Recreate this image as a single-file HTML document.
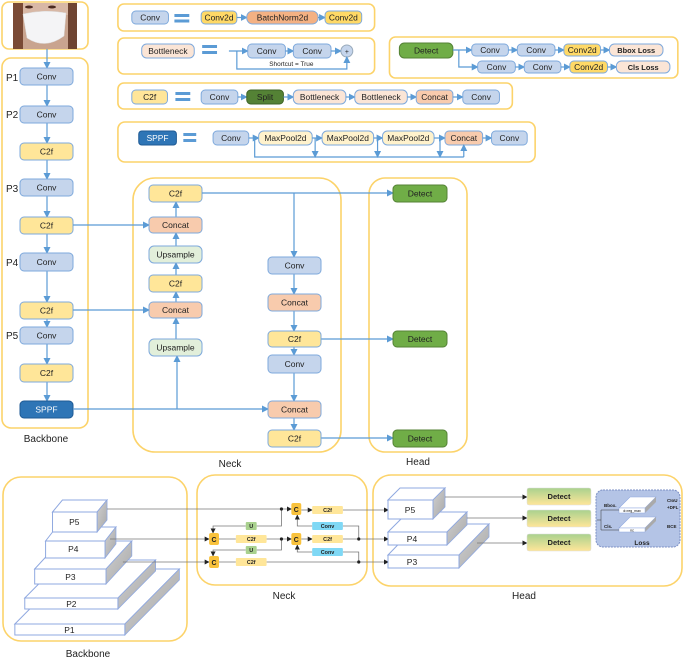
<!DOCTYPE html>
<html><head><meta charset="utf-8"><style>
html,body{margin:0;padding:0;background:#fff;}
svg{display:block;font-family:"Liberation Sans",sans-serif;}
</style></head><body>
<svg width="685" height="658" viewBox="0 0 685 658" xmlns="http://www.w3.org/2000/svg">
<defs>
<marker id="a" markerUnits="userSpaceOnUse" markerWidth="7" markerHeight="7" refX="6" refY="3.5" orient="auto"><path d="M0,0 L7,3.5 L0,7z" fill="#5b9bd5"/></marker>
<marker id="g" markerUnits="userSpaceOnUse" markerWidth="5" markerHeight="5" refX="4.5" refY="2.5" orient="auto"><path d="M0,0 L5,2.5 L0,5z" fill="#222"/></marker>
<linearGradient id="det" x1="0" y1="0" x2="0" y2="1"><stop offset="0" stop-color="#a9d18e"/><stop offset="1" stop-color="#ffe699"/></linearGradient>
<linearGradient id="side" x1="0" y1="0" x2="1" y2="1"><stop offset="0" stop-color="#d0d0d0"/><stop offset="1" stop-color="#a8a8a8"/></linearGradient>
</defs>
<style>
.f{fill:none;stroke:#fcd36a;stroke-width:1.6}
.n{stroke:#7ea9dc;stroke-width:1}
.t{font-size:8.5px;text-anchor:middle;fill:#222}
.l{stroke:#5b9bd5;stroke-width:1.2;fill:none}
.k{stroke:#777;stroke-width:0.8;fill:none}
.b{fill:#c5d5ec}.y{fill:#ffe699}.o{fill:#f8cbad}.gr{fill:#70ad47}.lg{fill:#e2efda}.pk{fill:#fbe5d6}.mp{fill:#fff2cc}
.s{font-size:5.5px;text-anchor:middle;fill:#222;font-weight:bold}
.eq{fill:#5b9bd5}
.box{fill:#fff;stroke:#8fa8e0;stroke-width:1}
.sd{fill:url(#side);stroke:#8fa8e0;stroke-width:0.8}
</style>

<!-- image box -->
<rect class="f" x="2" y="2" width="86" height="47" rx="7"/>
<rect x="13" y="3" width="64" height="46" fill="#c9a48f"/>
<rect x="13" y="3" width="64" height="12" fill="#d8b8a6"/>
<rect x="13" y="3" width="10" height="46" fill="#7a4a35"/>
<rect x="68" y="3" width="9" height="46" fill="#6e4432"/>
<ellipse cx="29" cy="7" rx="4" ry="1.5" fill="#4a2a20"/><ellipse cx="52" cy="7" rx="4" ry="1.5" fill="#4a2a20"/>
<path d="M23,14 Q45,9 66,13 L64,36 Q45,50 27,38z" fill="#f4f4f6" stroke="#ddd" stroke-width="0.5"/>

<!-- backbone -->
<rect class="f" x="2" y="58" width="86" height="370" rx="9"/>
<text x="46" y="442" style="font-size:10px;text-anchor:middle" fill="#222">Backbone</text>
<g>
<line class="l" x1="47" y1="49" x2="47" y2="68" marker-end="url(#a)"/>
<line class="l" x1="47" y1="85" x2="47" y2="106" marker-end="url(#a)"/>
<line class="l" x1="47" y1="123" x2="47" y2="143" marker-end="url(#a)"/>
<line class="l" x1="47" y1="160" x2="47" y2="179" marker-end="url(#a)"/>
<line class="l" x1="47" y1="196" x2="47" y2="217" marker-end="url(#a)"/>
<line class="l" x1="47" y1="234" x2="47" y2="253" marker-end="url(#a)"/>
<line class="l" x1="47" y1="271" x2="47" y2="302" marker-end="url(#a)"/>
<line class="l" x1="47" y1="319" x2="47" y2="327" marker-end="url(#a)"/>
<line class="l" x1="47" y1="344" x2="47" y2="364" marker-end="url(#a)"/>
<line class="l" x1="47" y1="382" x2="47" y2="401" marker-end="url(#a)"/>
<rect class="n b" x="20" y="68" width="53" height="17" rx="4"/><text class="t" x="46.5" y="79.5">Conv</text>
<rect class="n b" x="20" y="106" width="53" height="17" rx="4"/><text class="t" x="46.5" y="117.5">Conv</text>
<rect class="n y" x="20" y="143" width="53" height="17" rx="4"/><text class="t" x="46.5" y="154.5">C2f</text>
<rect class="n b" x="20" y="179" width="53" height="17" rx="4"/><text class="t" x="46.5" y="190.5">Conv</text>
<rect class="n y" x="20" y="217" width="53" height="17" rx="4"/><text class="t" x="46.5" y="228.5">C2f</text>
<rect class="n b" x="20" y="253" width="53" height="18" rx="4"/><text class="t" x="46.5" y="265">Conv</text>
<rect class="n y" x="20" y="302" width="53" height="17" rx="4"/><text class="t" x="46.5" y="313.5">C2f</text>
<rect class="n b" x="20" y="327" width="53" height="17" rx="4"/><text class="t" x="46.5" y="338.5">Conv</text>
<rect class="n y" x="20" y="364" width="53" height="18" rx="4"/><text class="t" x="46.5" y="376">C2f</text>
<rect x="20" y="401" width="53" height="17" rx="4" fill="#2e75b6" stroke="#1f5a94"/><text class="t" x="46.5" y="412.5" fill="#fff" style="fill:#fff">SPPF</text>
<g style="font-size:10px" fill="#222"><text x="6" y="81">P1</text><text x="6" y="118">P2</text><text x="6" y="192">P3</text><text x="6" y="266">P4</text><text x="6" y="339">P5</text></g>
</g>

<!-- top definitions (scaled) -->
<g transform="scale(0.991,1)">
<rect class="f" x="119" y="4" width="259" height="27" rx="6"/>
<rect class="n b" x="133" y="11" width="37" height="13" rx="4"/><text class="t" x="151.5" y="20.5">Conv</text>
<rect class="eq" x="176" y="14" width="15" height="3"/><rect class="eq" x="176" y="19.5" width="15" height="3"/>
<rect class="n" x="203" y="11" width="36" height="13" rx="4" fill="#ffd966"/><text class="t" x="221" y="20.5">Conv2d</text>
<line class="l" x1="239" y1="17.5" x2="249" y2="17.5" marker-end="url(#a)"/>
<rect class="n" x="249" y="11" width="72" height="13" rx="6" fill="#f4b183"/><text class="t" x="285" y="20.5">BatchNorm2d</text>
<line class="l" x1="321" y1="17.5" x2="328" y2="17.5" marker-end="url(#a)"/>
<rect class="n" x="328" y="11" width="37" height="13" rx="4" fill="#ffd966"/><text class="t" x="346.5" y="20.5">Conv2d</text>

<rect class="f" x="119" y="38" width="259" height="36" rx="6"/>
<rect class="n pk" x="143" y="44" width="53" height="14" rx="5"/><text class="t" x="169.5" y="54">Bottleneck</text>
<rect class="eq" x="204" y="45" width="15" height="3"/><rect class="eq" x="204" y="51" width="15" height="3"/>
<line class="l" x1="231" y1="51" x2="250" y2="51" marker-end="url(#a)"/>
<rect class="n b" x="250" y="44" width="38" height="14" rx="4"/><text class="t" x="269" y="54">Conv</text>
<line class="l" x1="288" y1="51" x2="296" y2="51" marker-end="url(#a)"/>
<rect class="n b" x="296" y="44" width="38" height="14" rx="4"/><text class="t" x="315" y="54">Conv</text>
<line class="l" x1="334" y1="51" x2="344" y2="51" marker-end="url(#a)"/>
<circle cx="350" cy="51" r="6" fill="#c5d5ec" stroke="#9ab"/><text class="t" x="350" y="54" style="font-size:7px">+</text>
<polyline class="l" points="239,51 239,69 350,69 350,57" marker-end="url(#a)"/>
<text x="294" y="66" style="font-size:6.5px;text-anchor:middle" fill="#222">Shortcut = True</text>

<rect class="f" x="393" y="37" width="291" height="41" rx="6"/>
<rect x="403" y="43" width="54" height="15" rx="5" fill="#70ad47" stroke="#548235"/><text class="t" x="430" y="53.5">Detect</text>
<polyline class="l" points="457,50 476,50" marker-end="url(#a)"/>
<polyline class="l" points="463,50 463,67 482,67" marker-end="url(#a)"/>
<rect class="n b" x="476" y="44" width="37" height="12" rx="4"/><text class="t" x="494.5" y="53">Conv</text>
<line class="l" x1="513" y1="50" x2="522" y2="50" marker-end="url(#a)"/>
<rect class="n b" x="522" y="44" width="38" height="12" rx="4"/><text class="t" x="541" y="53">Conv</text>
<line class="l" x1="560" y1="50" x2="569" y2="50" marker-end="url(#a)"/>
<rect class="n" x="569" y="44" width="37" height="12" rx="4" fill="#ffd966"/><text class="t" x="587.5" y="53">Conv2d</text>
<line class="l" x1="606" y1="50" x2="615" y2="50" marker-end="url(#a)"/>
<rect class="n pk" x="615" y="44" width="54" height="12" rx="5"/><text class="t" x="642" y="53" style="font-size:7.5px;font-weight:bold">Bbox Loss</text>
<rect class="n b" x="482" y="61" width="38" height="12" rx="4"/><text class="t" x="501" y="70">Conv</text>
<line class="l" x1="520" y1="67" x2="529" y2="67" marker-end="url(#a)"/>
<rect class="n b" x="529" y="61" width="37" height="12" rx="4"/><text class="t" x="547.5" y="70">Conv</text>
<line class="l" x1="566" y1="67" x2="575" y2="67" marker-end="url(#a)"/>
<rect class="n" x="575" y="61" width="38" height="12" rx="4" fill="#ffd966"/><text class="t" x="594" y="70">Conv2d</text>
<line class="l" x1="613" y1="67" x2="622" y2="67" marker-end="url(#a)"/>
<rect class="n pk" x="622" y="61" width="54" height="12" rx="5"/><text class="t" x="649" y="70" style="font-size:7.5px;font-weight:bold">Cls Loss</text>

<rect class="f" x="119" y="83" width="398" height="26" rx="6"/>
<rect class="n y" x="133" y="90" width="36" height="14" rx="4"/><text class="t" x="151" y="100">C2f</text>
<rect class="eq" x="177" y="92" width="15" height="3"/><rect class="eq" x="177" y="98" width="15" height="3"/>
<rect class="n b" x="203" y="90" width="37" height="14" rx="4"/><text class="t" x="221.5" y="100">Conv</text>
<line class="l" x1="240" y1="97" x2="249" y2="97" marker-end="url(#a)"/>
<rect x="249" y="90" width="37" height="14" rx="4" fill="#548235" stroke="#3d6326"/><text class="t" x="267.5" y="100">Split</text>
<line class="l" x1="286" y1="97" x2="296" y2="97" marker-end="url(#a)"/>
<rect class="n pk" x="296" y="90" width="53" height="14" rx="5"/><text class="t" x="322.5" y="100">Bottleneck</text>
<line class="l" x1="349" y1="97" x2="358" y2="97" marker-end="url(#a)"/>
<rect class="n pk" x="358" y="90" width="53" height="14" rx="5"/><text class="t" x="384.5" y="100">Bottleneck</text>
<line class="l" x1="411" y1="97" x2="420" y2="97" marker-end="url(#a)"/>
<rect class="n o" x="420" y="90" width="37" height="14" rx="4"/><text class="t" x="438.5" y="100">Concat</text>
<line class="l" x1="457" y1="97" x2="467" y2="97" marker-end="url(#a)"/>
<rect class="n b" x="467" y="90" width="37" height="14" rx="4"/><text class="t" x="485.5" y="100">Conv</text>

<rect class="f" x="119" y="122" width="421" height="40" rx="7"/>
<rect x="140" y="131" width="38" height="14" rx="3" fill="#2e75b6" stroke="#1f5a94"/><text class="t" x="159" y="141" style="fill:#fff">SPPF</text>
<rect class="eq" x="185" y="133" width="13" height="3"/><rect class="eq" x="185" y="139" width="13" height="3"/>
<rect class="n b" x="215" y="131" width="36" height="14" rx="4"/><text class="t" x="233" y="141">Conv</text>
<line class="l" x1="251" y1="138" x2="261" y2="138" marker-end="url(#a)"/>
<rect class="n mp" x="261" y="131" width="54" height="14" rx="5"/><text class="t" x="288" y="141">MaxPool2d</text>
<line class="l" x1="315" y1="138" x2="325" y2="138" marker-end="url(#a)"/>
<rect class="n mp" x="325" y="131" width="52" height="14" rx="5"/><text class="t" x="351" y="141">MaxPool2d</text>
<line class="l" x1="377" y1="138" x2="386" y2="138" marker-end="url(#a)"/>
<rect class="n mp" x="386" y="131" width="52" height="14" rx="5"/><text class="t" x="412" y="141">MaxPool2d</text>
<line class="l" x1="438" y1="138" x2="449" y2="138" marker-end="url(#a)"/>
<rect class="n o" x="449" y="131" width="38" height="14" rx="4"/><text class="t" x="468" y="141">Concat</text>
<line class="l" x1="487" y1="138" x2="496" y2="138" marker-end="url(#a)"/>
<rect class="n b" x="496" y="131" width="36" height="14" rx="4"/><text class="t" x="514" y="141">Conv</text>
<polyline class="l" points="257,138 257,157 468,157"/>
<line class="l" x1="318" y1="138" x2="318" y2="157" marker-end="url(#a)"/>
<line class="l" x1="381" y1="138" x2="381" y2="157" marker-end="url(#a)"/>
<line class="l" x1="444" y1="138" x2="444" y2="157" marker-end="url(#a)"/>
<line class="l" x1="468" y1="157" x2="468" y2="145" marker-end="url(#a)"/>
</g>

<!-- neck (top) -->
<rect class="f" x="133" y="178" width="208" height="274" rx="22"/>
<rect class="f" x="369" y="178" width="98" height="274" rx="16"/>
<text x="230" y="467" style="font-size:10px;text-anchor:middle" fill="#222">Neck</text>
<text x="418" y="465" style="font-size:10px;text-anchor:middle" fill="#222">Head</text>
<line class="l" x1="73" y1="225" x2="149" y2="225" marker-end="url(#a)"/>
<line class="l" x1="73" y1="310" x2="149" y2="310" marker-end="url(#a)"/>
<line class="l" x1="73" y1="409" x2="268" y2="409" marker-end="url(#a)"/>
<line class="l" x1="177" y1="409" x2="177" y2="356" marker-end="url(#a)"/>
<line class="l" x1="176" y1="302" x2="176" y2="292" marker-end="url(#a)"/>
<line class="l" x1="176" y1="275" x2="176" y2="263" marker-end="url(#a)"/>
<line class="l" x1="176" y1="246" x2="176" y2="233" marker-end="url(#a)"/>
<line class="l" x1="176" y1="217" x2="176" y2="202" marker-end="url(#a)"/>
<line class="l" x1="176" y1="339" x2="176" y2="318" marker-end="url(#a)"/>
<rect class="n y" x="149" y="185" width="53" height="17" rx="4"/><text class="t" x="175.5" y="196.5">C2f</text>
<rect class="n o" x="149" y="217" width="53" height="16" rx="4"/><text class="t" x="175.5" y="228">Concat</text>
<rect class="n lg" x="149" y="246" width="53" height="17" rx="5"/><text class="t" x="175.5" y="257.5">Upsample</text>
<rect class="n y" x="149" y="275" width="53" height="17" rx="4"/><text class="t" x="175.5" y="286.5">C2f</text>
<rect class="n o" x="149" y="302" width="53" height="16" rx="4"/><text class="t" x="175.5" y="313">Concat</text>
<rect class="n lg" x="149" y="339" width="53" height="17" rx="5"/><text class="t" x="175.5" y="350.5">Upsample</text>
<line class="l" x1="202" y1="193" x2="393" y2="193" marker-end="url(#a)"/>
<line class="l" x1="294" y1="193" x2="294" y2="257" marker-end="url(#a)"/>
<line class="l" x1="294" y1="274" x2="294" y2="294" marker-end="url(#a)"/>
<line class="l" x1="294" y1="311" x2="294" y2="331" marker-end="url(#a)"/>
<line class="l" x1="294" y1="347" x2="294" y2="355" marker-end="url(#a)"/>
<line class="l" x1="294" y1="373" x2="294" y2="401" marker-end="url(#a)"/>
<line class="l" x1="294" y1="418" x2="294" y2="430" marker-end="url(#a)"/>
<line class="l" x1="321" y1="339" x2="393" y2="339" marker-end="url(#a)"/>
<line class="l" x1="321" y1="438" x2="393" y2="438" marker-end="url(#a)"/>
<rect class="n b" x="268" y="257" width="53" height="17" rx="4"/><text class="t" x="294.5" y="268.5">Conv</text>
<rect class="n o" x="268" y="294" width="53" height="17" rx="4"/><text class="t" x="294.5" y="305.5">Concat</text>
<rect class="n y" x="268" y="331" width="53" height="16" rx="4"/><text class="t" x="294.5" y="342">C2f</text>
<rect class="n b" x="268" y="355" width="53" height="18" rx="4"/><text class="t" x="294.5" y="367">Conv</text>
<rect class="n o" x="268" y="401" width="53" height="17" rx="4"/><text class="t" x="294.5" y="412.5">Concat</text>
<rect class="n y" x="268" y="430" width="53" height="17" rx="4"/><text class="t" x="294.5" y="441.5">C2f</text>
<rect x="393" y="185" width="54" height="17" rx="4" fill="#70ad47" stroke="#548235"/><text class="t" x="420" y="196.5">Detect</text>
<rect x="393" y="331" width="54" height="16" rx="4" fill="#70ad47" stroke="#548235"/><text class="t" x="420" y="342">Detect</text>
<rect x="393" y="430" width="54" height="17" rx="4" fill="#70ad47" stroke="#548235"/><text class="t" x="420" y="441.5">Detect</text>

<!-- bottom -->
<rect class="f" x="3" y="477" width="184" height="164" rx="18"/>
<rect class="f" x="197" y="475" width="170" height="110" rx="18"/>
<rect class="f" x="373" y="475" width="309" height="111" rx="18"/>
<text x="88" y="657" style="font-size:10px;text-anchor:middle" fill="#222">Backbone</text>
<text x="284" y="599" style="font-size:10px;text-anchor:middle" fill="#222">Neck</text>
<text x="524" y="599" style="font-size:10px;text-anchor:middle" fill="#222">Head</text>

<g transform="scale(0.991,1)">
<!-- P1 -->
<polygon class="box" points="15,624 70,569 181,569 126,624"/>
<polygon class="sd" points="126,624 181,569 181,580 126,635"/>
<rect class="box" x="15" y="624" width="111" height="11"/><text class="t" x="70" y="633">P1</text>
<polygon class="box" points="25,598 63,560 157,560 119,598"/>
<polygon class="sd" points="119,598 157,560 157,571 119,609"/>
<rect class="box" x="25" y="598" width="94" height="11"/><text class="t" x="72" y="607">P2</text>
<polygon class="box" points="35,569 61,541 133,541 107,569"/>
<polygon class="sd" points="107,569 133,541 133,556 107,584"/>
<rect class="box" x="35" y="569" width="72" height="15"/><text class="t" x="71" y="580">P3</text>
<polygon class="box" points="46,541 57,527 117,527 106,541"/>
<polygon class="sd" points="106,541 117,527 117,544 106,558"/>
<rect class="box" x="46" y="541" width="60" height="17"/><text class="t" x="74" y="552">P4</text>
<polygon class="box" points="53,512 63,500 108,500 98,512"/>
<polygon class="sd" points="98,512 108,500 108,520 98,532"/>
<rect class="box" x="53" y="512" width="45" height="20"/><text class="t" x="75" y="525">P5</text>

<!-- neck bottom lines -->
<line class="k" x1="108" y1="509" x2="294" y2="509" marker-end="url(#g)"/>
<polyline class="k" points="284,509 284,526 259,526"/>
<polyline class="k" points="248,526 215,526 215,533" marker-end="url(#g)"/>
<line class="k" x1="111" y1="539" x2="211" y2="539" marker-end="url(#g)"/>
<line class="k" x1="221" y1="539" x2="238" y2="539"/>
<line class="k" x1="269" y1="539" x2="294" y2="539" marker-end="url(#g)"/>
<polyline class="k" points="284,539 284,550 259,550"/>
<polyline class="k" points="248,550 215,550 215,556" marker-end="url(#g)"/>
<line class="k" x1="124" y1="562" x2="211" y2="562" marker-end="url(#g)"/>
<line class="k" x1="221" y1="562" x2="238" y2="562"/>
<line class="k" x1="269" y1="562" x2="392" y2="562" marker-end="url(#g)"/>
<polyline class="k" points="362,562 362,552 346,552"/>
<polyline class="k" points="315,552 300,552 300,545" marker-end="url(#g)"/>
<line class="k" x1="304" y1="539" x2="315" y2="539" marker-end="url(#g)"/>
<line class="k" x1="346" y1="539" x2="392" y2="539" marker-end="url(#g)"/>
<polyline class="k" points="362,539 362,526 346,526"/>
<polyline class="k" points="315,526 300,526 300,515" marker-end="url(#g)"/>
<line class="k" x1="304" y1="510" x2="315" y2="510" marker-end="url(#g)"/>
<line class="k" x1="346" y1="510" x2="392" y2="510" marker-end="url(#g)"/>
<g fill="#222"><circle cx="284" cy="509" r="1.6"/><circle cx="284" cy="539" r="1.6"/><circle cx="362" cy="539" r="1.6"/><circle cx="362" cy="562" r="1.6"/></g>
<g fill="#f9c23c"><rect x="294" y="503" width="10" height="12" rx="2"/><rect x="294" y="533" width="10" height="12" rx="2"/><rect x="211" y="533" width="10" height="12" rx="2"/><rect x="211" y="556" width="10" height="12" rx="2"/></g>
<g class="s" style="font-size:7px"><text x="299" y="512">C</text><text x="299" y="542">C</text><text x="216" y="542">C</text><text x="216" y="565">C</text></g>
<g fill="#ffe699"><rect x="315" y="506" width="31" height="8" rx="1"/><rect x="238" y="535" width="31" height="8" rx="1"/><rect x="315" y="535" width="31" height="8" rx="1"/><rect x="238" y="558" width="31" height="8" rx="1"/></g>
<g class="s"><text x="330.5" y="512">C2f</text><text x="253.5" y="541">C2f</text><text x="330.5" y="541">C2f</text><text x="253.5" y="564">C2f</text></g>
<g fill="#a9d18e"><rect x="248" y="522" width="11" height="8" rx="1"/><rect x="248" y="546" width="11" height="8" rx="1"/></g>
<g class="s"><text x="253.5" y="528">U</text><text x="253.5" y="552">U</text></g>
<g fill="#7fd8f5"><rect x="315" y="522" width="31" height="8" rx="1"/><rect x="315" y="548" width="31" height="8" rx="1"/></g>
<g class="s"><text x="330.5" y="528">Conv</text><text x="330.5" y="554">Conv</text></g>
</g>

<!-- head bottom -->
<polygon class="box" points="388,555 418,524 489,524 459,555"/>
<polygon class="sd" points="459,555 489,524 489,537 459,568"/>
<rect class="box" x="388" y="555" width="71" height="13"/><text class="t" x="412" y="565">P3</text>
<polygon class="box" points="388,532 408,512 467,512 447,532"/>
<polygon class="sd" points="447,532 467,512 467,525 447,545"/>
<rect class="box" x="388" y="532" width="59" height="13"/><text class="t" x="412" y="542">P4</text>
<polygon class="box" points="388,500 400,488 445,488 433,500"/>
<polygon class="sd" points="433,500 445,488 445,507 433,519"/>
<rect class="box" x="388" y="500" width="45" height="19"/><text class="t" x="410" y="513">P5</text>
<line class="k" x1="445" y1="497" x2="527" y2="497" marker-end="url(#g)"/>
<line class="k" x1="467" y1="518" x2="527" y2="518" marker-end="url(#g)"/>
<line class="k" x1="477" y1="543" x2="527" y2="543" marker-end="url(#g)"/>
<rect x="527" y="488" width="64" height="17" rx="2" fill="url(#det)" stroke="#ddd" stroke-width="0.5"/><text class="s" x="559" y="499" style="font-size:7.5px">Detect</text>
<rect x="527" y="510" width="64" height="17" rx="2" fill="url(#det)" stroke="#ddd" stroke-width="0.5"/><text class="s" x="559" y="521" style="font-size:7.5px">Detect</text>
<rect x="527" y="534" width="64" height="17" rx="2" fill="url(#det)" stroke="#ddd" stroke-width="0.5"/><text class="s" x="559" y="545" style="font-size:7.5px">Detect</text>

<!-- loss box -->
<rect x="596" y="490" width="84" height="57" rx="7" fill="#b4c4e6" stroke="#7b8fc4" stroke-dasharray="2,1"/>
<polygon points="619,508 630,497 656,497 645,508" fill="#fff" stroke="#8fa8e0" stroke-width="0.6"/>
<polygon points="645,508 656,497 656,502 645,513" fill="#aaa"/>
<rect x="619" y="508" width="26" height="5" fill="#fff" stroke="#8fa8e0" stroke-width="0.5"/>
<text x="632" y="512" style="font-size:3.5px;text-anchor:middle">d=reg_max</text>
<polygon points="619,528 630,517 656,517 645,528" fill="#fff" stroke="#8fa8e0" stroke-width="0.6"/>
<polygon points="645,528 656,517 656,521 645,532" fill="#aaa"/>
<rect x="619" y="528" width="26" height="4" fill="#fff" stroke="#8fa8e0" stroke-width="0.5"/>
<text x="632" y="531.5" style="font-size:3.5px;text-anchor:middle">nc</text>
<polyline points="597,520 601,520" stroke="#333" stroke-width="0.5" fill="none"/>
<polyline points="601,510 601,530" stroke="#333" stroke-width="0.5" fill="none"/>
<polyline points="601,510 619,510" stroke="#333" stroke-width="0.5" fill="none"/>
<polyline points="601,530 619,530" stroke="#333" stroke-width="0.5" fill="none"/>
<g style="font-size:4.5px;font-weight:bold" fill="#222"><text x="604" y="507">Bbox.</text><text x="604" y="528">Cls.</text><text x="667" y="502">CIoU</text><text x="667" y="509">+DFL</text><text x="667" y="528">BCE</text></g>
<text x="642" y="545" style="font-size:6.5px;text-anchor:middle;font-weight:bold" fill="#222">Loss</text>
</svg>
</body></html>
